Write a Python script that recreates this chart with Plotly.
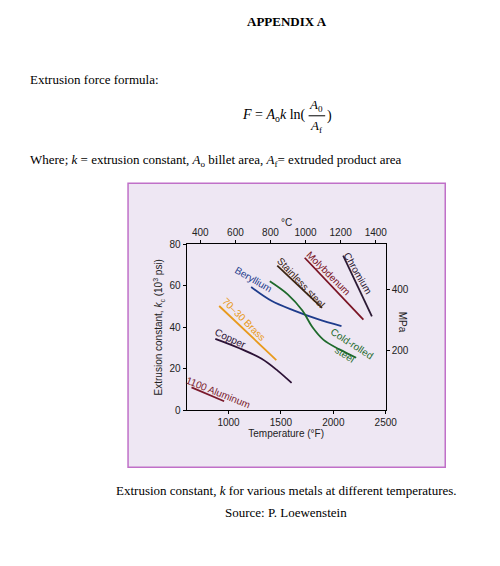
import plotly.graph_objects as go

# Data (temperature °F, k in 10^3 psi)
alu_t = [647, 958]; alu_k = [11.1, 4.4]
cu_t = [874, 1098, 1316, 1471, 1602]; cu_k = [34.4, 30.0, 24.8, 19.0, 13.2]
brass_t = [911, 1456]; brass_k = [50.2, 24.2]
be_t = [1216, 1409, 1627, 1845, 2078]; be_k = [59.3, 52.7, 48.0, 44.0, 40.5]
crs_t = [1394, 1565, 1705, 1798, 1907, 2063, 2218]; crs_k = [62.1, 55.8, 48.0, 40.2, 33.9, 29.2, 25.3]
ss_t = [1465, 1892]; ss_k = [69.6, 49.3]
mo_t = [1727, 2287]; mo_k = [73.4, 43.6]
cr_t = [2094, 2368]; cr_k = [74.4, 45.2]
c_ticks = [400, 600, 800, 1000, 1200, 1400]
c_tick_pos_f = [731, 1066, 1400, 1735, 2070, 2405]  # positions as drawn in the reference
mpa_ticks = [200, 400]

series = [
    (alu_t, alu_k, "#7a1a2c", "1100 Aluminum", 900, 8.4, 22),
    (cu_t, cu_k, "#2c1236", "Copper", 1020, 34.8, 25),
    (brass_t, brass_k, "#e89a1c", "70–30 Brass", 1150, 43.8, 45),
    (be_t, be_k, "#1e3c8c", "Beryllium", 1240, 63.0, 30),
    (crs_t, crs_k, "#1e6a2c", "Cold-rolled<br>steel", 2140, 29.3, 33),
    (ss_t, ss_k, "#3a2414", "Stainless steel", 1692, 61.5, 47),
    (mo_t, mo_k, "#7a1424", "Molybdenum", 1958, 66.0, 45),
    (cr_t, cr_k, "#2c1a34", "Chromium", 2238, 66.0, 60),
]

fig = go.Figure()
font = "Liberation Sans, Arial, sans-serif"
serif = "Liberation Serif, Times New Roman, serif"
anns = []
for t, k, col, name, lx, ly, ang in series:
    fig.add_trace(go.Scatter(x=t, y=k, mode="lines", line=dict(color=col, width=1.8, shape="spline"),
                             showlegend=False, hoverinfo="skip"))
    anns.append(dict(x=lx, y=ly, xref="x", yref="y", text=name, showarrow=False, textangle=ang,
                     font=dict(family=font, size=10, color=col)))
fig.add_trace(go.Scatter(x=[600], y=[0], xaxis="x2", yaxis="y2", mode="markers",
                         marker=dict(opacity=0), showlegend=False, hoverinfo="skip"))

tf = dict(family=font, size=10, color="#222")
ax = dict(showgrid=False, zeroline=False, showline=True, linecolor="black", linewidth=1,
          ticks="outside", ticklen=3, tickcolor="black", tickfont=tf)
fig.update_layout(
    width=500, height=566, margin=dict(l=0, r=0, t=0, b=0),
    paper_bgcolor="white", plot_bgcolor="rgba(0,0,0,0)",
    xaxis=dict(**ax, domain=[0.366, 0.774], range=[600, 2500], tickvals=[1000, 1500, 2000, 2500],
               anchor="y", title=dict(text="Temperature (°F)", font=tf, standoff=2)),
    yaxis=dict(**ax, domain=[0.2845, 0.5848], range=[0, 80], tickvals=[0, 20, 40, 60, 80], anchor="x",
               title=dict(text="Extrusion constant, <i>k</i><sub>c</sub> (10<sup>3</sup> psi)", font=tf, standoff=4)),
    xaxis2=dict(**ax, overlaying="x", side="top", anchor="y", range=[600, 2500],
                tickvals=c_tick_pos_f, ticktext=[str(c) for c in c_ticks]),
    yaxis2=dict(**ax, overlaying="y", side="right", anchor="x", range=[0, 80],
                tickvals=[m / 6.895 for m in mpa_ticks], ticktext=[str(m) for m in mpa_ticks]),
)

shapes = [dict(type="rect", xref="paper", yref="paper", x0=123/500, x1=448/500, y0=1-463/566, y1=1-173/566,
               fillcolor="#eee7f3", line=dict(color="#c070c8", width=1.5), layer="below"),
          dict(type="line", xref="paper", yref="paper", x0=308/500, x1=325/500, y0=1-104/566, y1=1-104/566,
               line=dict(color="black", width=1))]

def pa(x, y, text, size=13, xanchor="left"):
    anns.append(dict(x=x/500, y=1-y/566, xref="paper", yref="paper", text=text, showarrow=False,
                     xanchor=xanchor, yanchor="middle", font=dict(family=serif, size=size, color="black")))

pa(286, 8, "<b>APPENDIX A</b>", 13, "center")
pa(20, 67, "Extrusion force formula:", 13)
pa(307, 104, "<i>F</i> = <i>A</i><sub>o</sub><i>k</i> ln(", 14, "right")
pa(316, 93, "<i>A</i><sub>0</sub>", 13, "center")
pa(316, 115, "<i>A</i><sub>f</sub>", 13, "center")
pa(325, 104, ")", 14, "left")
pa(20, 150, "Where; <i>k</i> = extrusion constant, <i>A</i><sub>o</sub> billet area, <i>A</i><sub>f</sub>= extruded product area", 13)
pa(285, 487, "Extrusion constant, <i>k</i> for various metals at different temperatures.", 13, "center")
pa(285, 509, "Source: P. Loewenstein", 13, "center")
anns.append(dict(x=0.57, y=1-213/566, xref="paper", yref="paper", text="°C", showarrow=False, font=tf))
anns.append(dict(x=412/500, y=1-315/566, xref="paper", yref="paper", text="MPa", showarrow=False,
                 textangle=90, font=tf))

fig.update_layout(annotations=anns, shapes=shapes)
fig.write_html("out.html")
